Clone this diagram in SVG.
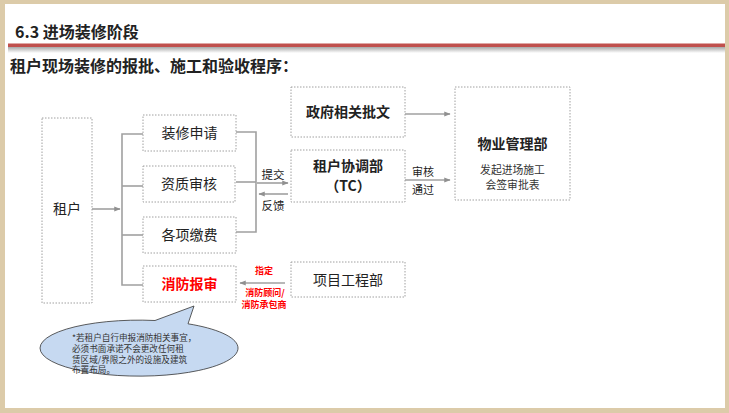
<svg xmlns="http://www.w3.org/2000/svg" width="729" height="413" viewBox="0 0 729 413">
<defs>
<style>
.box{fill:#fff;stroke:#a0a0a0;stroke-width:1;stroke-dasharray:1.5 1.5}
.t{font-family:"Noto Sans CJK SC","Liberation Sans",sans-serif;fill:#222;text-anchor:middle}
.b{font-weight:bold}
.c{stroke:#a0a0a0;stroke-width:1.6;fill:none}
.red{fill:#ff0000}
</style>
<marker id="ah" viewBox="0 0 10 10" refX="9" refY="5" markerWidth="4" markerHeight="4" orient="auto-start-reverse" markerUnits="strokeWidth">
<path d="M0,1 L10,5 L0,9 z" fill="#909090"/>
</marker>
<linearGradient id="sh" x1="0" y1="0" x2="0" y2="1">
<stop offset="0" stop-color="#a8a8a8"/>
<stop offset="1" stop-color="#ffffff"/>
</linearGradient>
</defs>
<rect x="0" y="0" width="729" height="413" fill="#dccba9"/>
<rect x="5" y="4" width="720" height="404" fill="#ffffff"/>
<rect x="8" y="47" width="717" height="6" fill="url(#sh)"/>
<rect x="8" y="43.5" width="717" height="3.5" fill="#c0504d"/>
<text x="15" y="38" class="t b" style="text-anchor:start;font-size:16px">6.3 进场装修阶段</text>
<text x="10" y="72" class="t b" style="text-anchor:start;font-size:16px">租户现场装修的报批、施工和验收程序：</text>

<g id="connectors">
<line x1="92" y1="209" x2="120" y2="209" class="c" marker-end="url(#ah)"/>
<polyline points="143,134 122,134 122,285 143,285" class="c"/>
<line x1="122" y1="186" x2="143" y2="186" class="c"/>
<line x1="122" y1="235" x2="143" y2="235" class="c"/>
<polyline points="236,132 256,132 256,232 236,232" class="c"/>
<line x1="236" y1="182" x2="256" y2="182" class="c"/>
<line x1="257" y1="183" x2="288" y2="183" class="c" marker-end="url(#ah)"/>
<line x1="288" y1="194" x2="259" y2="194" class="c" marker-end="url(#ah)"/>
<text x="273" y="179" class="t" style="font-size:11.5px">提交</text>
<text x="273" y="210" class="t" style="font-size:11.5px">反馈</text>
<line x1="405" y1="114" x2="450" y2="114" class="c" marker-end="url(#ah)"/>
<line x1="405" y1="180" x2="450" y2="180" class="c" marker-end="url(#ah)"/>
<text x="423" y="176" class="t" style="font-size:11px">审核</text>
<text x="423" y="194" class="t" style="font-size:11px">通过</text>
<line x1="285" y1="283" x2="240" y2="283" class="c" marker-end="url(#ah)"/>
<text x="264" y="274" class="t b red" style="font-size:9px">指定</text>
<text x="265" y="296" class="t b red" style="font-size:9px">消防顾问/</text>
<text x="264" y="307.5" class="t b red" style="font-size:9px">消防承包商</text>
</g>

<g id="n-tenant">
<rect x="42" y="118" width="50" height="185" class="box"/>
<text x="67" y="214" class="t" style="font-size:14px">租户</text>
</g>
<g id="n-apply">
<rect x="143" y="115" width="93" height="36" class="box"/>
<text x="189.5" y="138" class="t" style="font-size:14px">装修申请</text>
</g>
<g id="n-qual">
<rect x="143" y="166" width="92" height="36" class="box"/>
<text x="189" y="189" class="t" style="font-size:14px">资质审核</text>
</g>
<g id="n-fee">
<rect x="143" y="217" width="93" height="36" class="box"/>
<text x="189.5" y="240" class="t" style="font-size:14px">各项缴费</text>
</g>
<g id="n-fire">
<rect x="143" y="266" width="93" height="36" class="box"/>
<text x="189.5" y="289" class="t b red" style="font-size:14px">消防报审</text>
</g>
<g id="n-gov">
<rect x="291" y="87" width="114" height="50" class="box"/>
<text x="348" y="117" class="t b" style="font-size:14px">政府相关批文</text>
</g>
<g id="n-tc">
<rect x="291" y="150" width="114" height="52" class="box"/>
<text x="348" y="171" class="t b" style="font-size:14px">租户协调部</text>
<text x="348" y="190.5" class="t b" style="font-size:14px">（TC）</text>
</g>
<g id="n-proj">
<rect x="291" y="262" width="114" height="35" class="box"/>
<text x="348" y="284.5" class="t" style="font-size:14px">项目工程部</text>
</g>
<g id="n-pm">
<rect x="455" y="87" width="115" height="113" class="box"/>
<text x="512.5" y="149" class="t b" style="font-size:14px">物业管理部</text>
<text x="512.5" y="174" class="t" style="font-size:10.8px;fill:#333">发起进场施工</text>
<text x="512.5" y="189" class="t" style="font-size:10.8px;fill:#333">会签审批表</text>
</g>
<g id="callout">
<path d="M155,320.5 L194,306 L188,323.8 A99,28 0 1 1 155,320.5 Z" fill="#c6d9f1" stroke="#333" stroke-width="0.8"/>
<g class="t" style="text-anchor:start;font-size:8.6px;fill:#333">
<text x="72" y="341">*若租户自行申报消防相关事宜，</text>
<text x="72" y="352">必须书面承诺不会更改任何租</text>
<text x="72" y="362.5">赁区域/界限之外的设施及建筑</text>
<text x="72" y="373">布置布局。</text>
</g>
</g>
</svg>
